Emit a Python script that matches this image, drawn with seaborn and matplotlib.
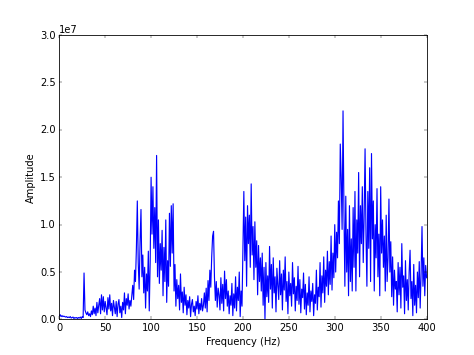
"""
Amplitude spectrum of the recorded signal
"""

# Libraries
import numpy as np
import seaborn as sns
import matplotlib
matplotlib.use('Agg')
import matplotlib.pyplot as plt

# -----------------------------------
# Data (amplitude in units of 1e6, one value per Hz)
# -----------------------------------
freq_hz = list(range(0, 401))

amp_1e6 = [
    # 0-9
    0.4, 0.5, 0.3, 0.4, 0.3, 0.35, 0.3, 0.25, 0.3, 0.2,
    # 10-19
    0.25, 0.2, 0.3, 0.15, 0.2, 0.25, 0.1, 0.2, 0.15, 0.2,
    # 20-29
    0.1, 0.2, 0.15, 0.25, 0.1, 0.3, 0.2, 4.9, 1.0, 0.7,
    # 30-39
    0.5, 0.8, 0.4, 0.6, 0.3, 0.9, 0.5, 1.4, 0.6, 1.2,
    # 40-49
    0.4, 1.8, 0.7, 1.5, 2.2, 0.6, 2.6, 1.0, 2.4, 0.8,
    # 50-59
    1.9, 1.2, 0.5, 2.3, 1.1, 2.6, 0.9, 1.7, 0.4, 2.0,
    # 60-69
    1.3, 0.6, 1.9, 0.3, 1.6, 2.1, 0.7, 1.4, 0.2, 1.8,
    # 70-79
    1.0, 2.8, 0.6, 2.2, 1.5, 2.7, 1.1, 2.0, 1.4, 2.5,
    # 80-89
    3.6, 2.1, 5.2, 4.0, 7.5, 12.5, 6.0, 3.2, 8.2, 11.6,
    # 90-99
    4.5, 6.8, 2.8, 5.5, 1.2, 4.8, 3.0, 7.2, 0.9, 6.0,
    # 100-109
    15.0, 9.0, 14.0, 7.5, 11.8, 6.0, 17.3, 4.5, 10.5, 3.8,
    # 110-119
    8.0, 5.2, 9.4, 2.5, 7.6, 4.0, 10.5, 1.8, 6.2, 3.5,
    # 120-129
    11.2, 5.6, 12.0, 7.0, 12.2, 3.0, 5.8, 1.4, 4.2, 2.2,
    # 130-139
    3.6, 1.0, 4.8, 1.8, 2.9, 0.7, 3.4, 1.5, 2.6, 0.5,
    # 140-149
    2.0, 1.2, 2.4, 0.3, 1.6, 2.1, 0.8, 1.4, 0.4, 1.9,
    # 150-159
    1.1, 2.5, 0.6, 1.7, 1.0, 2.2, 0.9, 1.5, 2.8, 1.2,
    # 160-169
    3.3, 0.8, 4.1, 2.0, 5.2, 3.4, 6.6, 8.8, 9.3, 4.5,
    # 170-179
    2.0, 4.0, 1.3, 3.3, 2.6, 1.0, 4.4, 1.7, 3.7, 0.9,
    # 180-189
    5.1, 2.2, 4.2, 1.4, 3.0, 0.6, 2.5, 1.5, 3.8, 0.4,
    # 190-199
    2.7, 1.2, 4.5, 0.9, 3.4, 2.0, 5.0, 0.3, 3.0, 1.4,
    # 200-209
    7.5, 13.5, 6.2, 10.8, 3.5, 12.0, 8.0, 11.0, 5.5, 14.3,
    # 210-219
    6.8, 9.8, 4.2, 10.3, 5.5, 8.3, 2.6, 7.8, 4.0, 6.5,
    # 220-229
    3.0, 7.0, 1.5, 5.5, 0.0, 6.0, 2.4, 4.6, 1.8, 7.7,
    # 230-239
    3.2, 5.8, 1.2, 6.5, 2.8, 4.5, 0.8, 5.4, 3.6, 2.1,
    # 240-249
    6.2, 2.6, 4.8, 1.0, 5.2, 3.1, 6.6, 1.9, 4.0, 0.6,
    # 250-259
    5.0, 2.5, 3.8, 1.4, 6.0, 2.7, 4.4, 0.9, 3.5, 2.0,
    # 260-269
    5.6, 1.6, 4.2, 0.7, 3.2, 2.3, 4.9, 1.1, 3.7, 0.5,
    # 270-279
    2.8, 1.5, 4.5, 0.8, 3.0, 1.9, 3.8, 0.4, 2.6, 1.7,
    # 280-289
    5.2, 1.0, 3.4, 2.4, 6.0, 1.3, 4.6, 2.8, 6.6, 1.8,
    # 290-299
    5.2, 3.5, 7.2, 2.6, 6.1, 3.7, 8.8, 3.1, 7.0, 4.4,
    # 300-309
    10.0, 5.0, 9.2, 6.5, 12.5, 8.0, 18.5, 15.0, 9.5, 22.0,
    # 310-319
    11.5, 3.5, 13.0, 5.0, 9.5, 2.5, 12.0, 4.0, 8.5, 3.0,
    # 320-329
    11.8, 5.5, 13.5, 3.0, 10.5, 7.0, 15.5, 4.5, 12.0, 8.0,
    # 330-339
    14.0, 6.0, 11.0, 18.0, 9.0, 3.5, 13.5, 7.5, 16.0, 4.0,
    # 340-349
    17.5, 8.5, 12.5, 3.0, 10.0, 6.5, 13.8, 4.5, 9.0, 2.5,
    # 350-359
    14.0, 7.0, 10.5, 5.5, 8.8, 3.0, 11.0, 4.0, 6.5, 12.7,
    # 360-369
    5.0, 8.2, 2.4, 6.6, 1.5, 5.2, 3.2, 4.0, 0.8, 6.0,
    # 370-379
    2.6, 5.5, 1.2, 8.0, 3.4, 4.6, 0.6, 6.2, 2.0, 4.2,
    # 380-389
    1.0, 5.0, 7.3, 2.2, 4.0, 0.4, 5.8, 1.5, 3.6, 0.7,
    # 390-399
    5.0, 2.3, 6.1, 1.2, 4.8, 9.8, 3.5, 6.5, 2.5, 5.7,
    # 400
    4.4,
]

amplitude = np.array(amp_1e6) * 1e6

# -----------------------------------
# Plot
# -----------------------------------
# Old matplotlib look
plt.style.use('classic')

# Create figure (8x6 in at reduced dpi -> 474x355 px)
fig, ax = plt.subplots(1, 1, figsize=(8, 6), facecolor='white')

# Draw spectrum
sns.lineplot(x=freq_hz, y=amplitude, color='b', linewidth=1.4,
             estimator=None, sort=False, ax=ax)

# Configure axes
ax.set(xlim=(0, 400), ylim=(0, 3e7),
       xlabel='Frequency (Hz)', ylabel='Amplitude')

# Save
plt.savefig('out.png', dpi=59.25, facecolor='white')
